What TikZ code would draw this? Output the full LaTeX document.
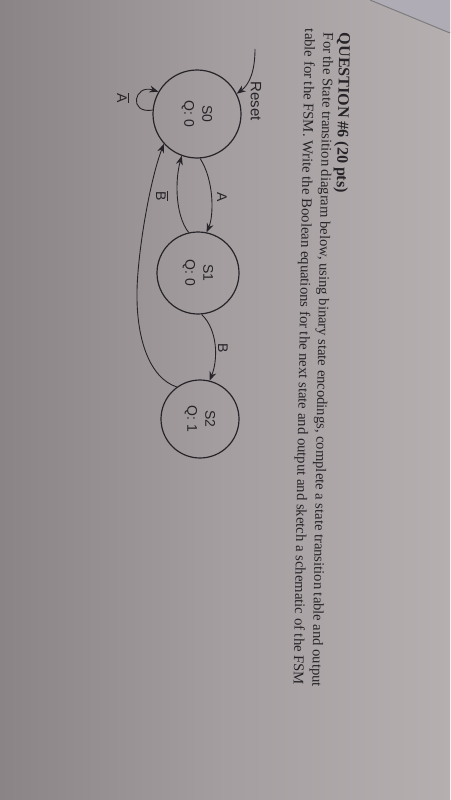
\documentclass[tikz,border=0pt]{standalone}
\usepackage{fontspec}
\setmainfont{Liberation Serif}
\newfontfamily\diagfont{Liberation Sans}
\usepackage{graphicx}
\usetikzlibrary{arrows.meta}
\definecolor{ink}{RGB}{38,36,40}
\definecolor{paperL}{RGB}{138,132,134}
\definecolor{paperM}{RGB}{165,158,160}
\definecolor{paperR}{RGB}{182,175,176}
\definecolor{cornerC}{RGB}{176,172,182}
\begin{document}
\begin{tikzpicture}[x=1pt,y=1pt,
  state/.style={circle, draw=ink, line width=1.2pt, inner sep=0pt, text=ink,
    font=\diagfont\fontsize{14}{18}\selectfont},
  arr/.style={draw=ink, line width=0.9pt, -{Stealth[length=9pt,width=7pt]}},
  lbl/.style={font=\diagfont\fontsize{14}{17}\selectfont, text=ink, rotate=-90, inner sep=0pt},
  txt/.style={text=ink, rotate=-91, inner sep=0pt}]
\useasboundingbox (0,0) rectangle (450,-800);
\shade[left color=paperL, right color=paperR, middle color=paperM] (0,0) rectangle (450,-800);
\fill[cornerC] (370,0) -- (450,0) -- (450,-33) -- cycle;
\draw[ink!60, line width=1pt] (370,0) -- (450,-33);

% text
\node[txt] (title) at (342,-113) {\resizebox{160pt}{!}{\bfseries QUESTION \#6 (20 pts)}};
\node[txt] (line1) at (321.5,-360) {\resizebox{654pt}{!}{For the State transition diagram below, using binary state encodings, complete a state transition table and output}};
\node[txt] (line2) at (303,-357) {\resizebox{656pt}{!}{table for the FSM. Write the Boolean equations for the next state and output and sketch a schematic of the FSM}};

% states
\node[state, minimum size=88pt] (S0) at (197,-114) {\rotatebox{-90}{\begin{tabular}{@{}c@{}}S0\\Q: 0\end{tabular}}};
\node[state, minimum size=82pt] (S1) at (198,-273) {\rotatebox{-90}{\begin{tabular}{@{}c@{}}S1\\Q: 0\end{tabular}}};
\node[state, minimum size=78pt] (S2) at (200,-419) {\rotatebox{-90}{\begin{tabular}{@{}c@{}}S2\\Q: 1\end{tabular}}};

% reset
\coordinate (rs) at (255,-49);
\draw[arr] (rs) .. controls (255,-70) and (250,-84) .. (S0.27);
\node[lbl, font=\diagfont\fontsize{15}{18}\selectfont] (lreset) at (256,-101) {Reset};

% self loop
\draw[arr] (S0.175) .. controls (128,-114) and (134,-84) .. (S0.150);
\node[lbl] (lAn) at (123,-98) {$\overline{\mbox{A}}$};

% S0 -> S1
\draw[arr] (S0.-86) .. controls (214,-180) and (214,-215) .. (S1.78);
\node[lbl] (lA) at (222,-197) {A};

% S1 -> S0
\draw[arr] (S1.103) .. controls (175,-215) and (175,-180) .. (S0.-110);
\node[lbl] (lBn) at (162,-196) {$\overline{\mbox{B}}$};

% S1 -> S2
\draw[arr] (S1.-85) .. controls (218,-330) and (218,-360) .. (S2.76);
\node[lbl] (lB) at (223,-348) {B};

% S2 -> S0
\draw[arr] (S2.126) .. controls (150,-378) and (136,-340) .. (137,-290)
  .. controls (138,-250) and (150,-180) .. (S0.-138);
\end{tikzpicture}
\end{document}
